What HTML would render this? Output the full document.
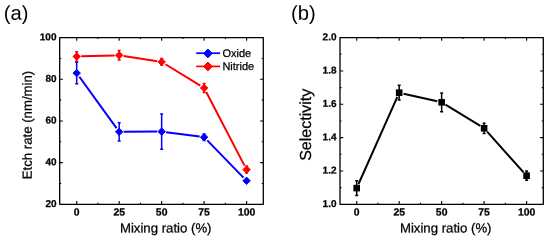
<!DOCTYPE html>
<html><head><meta charset="utf-8"><style>
html,body{margin:0;padding:0;background:#fff;overflow:hidden;}
svg{display:block;text-rendering:geometricPrecision;will-change:transform;}
text{font-family:"Liberation Sans",sans-serif;stroke:#000;stroke-width:0.25px;}
.ns{stroke:none;}
</style></head><body>
<svg width="550" height="244" viewBox="0 0 550 244">
<rect width="550" height="244" fill="#fff"/>
<text x="0" y="0" transform="translate(3.7 19.7) skewY(0.05)" font-size="20.2" class="ns" >(a)</text>
<text x="0" y="0" transform="translate(291.1 19.7) skewY(0.05)" font-size="20.2" class="ns" >(b)</text>
<rect x="59.7" y="37.6" width="203.60000000000002" height="166.70000000000002" fill="none" stroke="#000" stroke-width="1.3" stroke-linejoin="round"/>
<path d="M76.70 204.30v-3.2M76.70 37.60v3.2M97.94 204.30v-1.5M97.94 37.60v1.5M119.18 204.30v-3.2M119.18 37.60v3.2M140.41 204.30v-1.5M140.41 37.60v1.5M161.65 204.30v-3.2M161.65 37.60v3.2M182.89 204.30v-1.5M182.89 37.60v1.5M204.12 204.30v-3.2M204.12 37.60v3.2M225.36 204.30v-1.5M225.36 37.60v1.5M246.60 204.30v-3.2M246.60 37.60v3.2" stroke="#000" stroke-width="1.1" fill="none"/>
<text x="0" y="0" transform="translate(76.70 215.6) scale(1.0 1) skewY(0.05)" text-anchor="middle" font-size="10.4" font-weight="bold" >0</text>
<text x="0" y="0" transform="translate(119.18 215.6) scale(1.0 1) skewY(0.05)" text-anchor="middle" font-size="10.4" font-weight="bold" >25</text>
<text x="0" y="0" transform="translate(161.65 215.6) scale(1.0 1) skewY(0.05)" text-anchor="middle" font-size="10.4" font-weight="bold" >50</text>
<text x="0" y="0" transform="translate(204.12 215.6) scale(1.0 1) skewY(0.05)" text-anchor="middle" font-size="10.4" font-weight="bold" >75</text>
<text x="0" y="0" transform="translate(246.60 215.6) scale(1.0 1) skewY(0.05)" text-anchor="middle" font-size="10.4" font-weight="bold" >100</text>
<path d="M59.70 183.46h1.5M263.30 183.46h-1.5M59.70 141.79h1.5M263.30 141.79h-1.5M59.70 100.11h1.5M263.30 100.11h-1.5M59.70 58.44h1.5M263.30 58.44h-1.5M59.70 162.63h3.2M263.30 162.63h-3.2M59.70 120.95h3.2M263.30 120.95h-3.2M59.70 79.28h3.2M263.30 79.28h-3.2" stroke="#000" stroke-width="1.1" fill="none"/>
<text x="0" y="0" transform="translate(56.50 206.90) scale(1.0 1) skewY(0.05)" text-anchor="end" font-size="10.0" font-weight="bold" >20</text>
<text x="0" y="0" transform="translate(56.50 165.23) scale(1.0 1) skewY(0.05)" text-anchor="end" font-size="10.0" font-weight="bold" >40</text>
<text x="0" y="0" transform="translate(56.50 123.55) scale(1.0 1) skewY(0.05)" text-anchor="end" font-size="10.0" font-weight="bold" >60</text>
<text x="0" y="0" transform="translate(56.50 81.88) scale(1.0 1) skewY(0.05)" text-anchor="end" font-size="10.0" font-weight="bold" >80</text>
<text x="0" y="0" transform="translate(56.50 40.20) scale(1.0 1) skewY(0.05)" text-anchor="end" font-size="10.0" font-weight="bold" >100</text>
<path d="M79.34 76.75L116.54 128.15M123.67 131.78L157.15 131.62M166.11 132.19L199.66 136.61M207.27 140.42L243.46 177.58" fill="none" stroke="#0000ff" stroke-width="2.0"/>
<path d="M76.70 62.35V83.85M75.20 62.35h3.0M75.20 83.85h3.0" stroke="#0000ff" stroke-width="1.5" fill="none"/>
<path d="M76.70 69.40L80.40 73.10L76.70 76.80L73.00 73.10Z" fill="#0000ff" stroke="#0000ff" stroke-width="1.0" stroke-linejoin="round"/>
<path d="M119.18 122.70V140.90M117.68 122.70h3.0M117.68 140.90h3.0" stroke="#0000ff" stroke-width="1.5" fill="none"/>
<path d="M119.18 128.10L122.88 131.80L119.18 135.50L115.48 131.80Z" fill="#0000ff" stroke="#0000ff" stroke-width="1.0" stroke-linejoin="round"/>
<path d="M161.65 113.90V149.30M160.15 113.90h3.0M160.15 149.30h3.0" stroke="#0000ff" stroke-width="1.5" fill="none"/>
<path d="M161.65 127.90L165.35 131.60L161.65 135.30L157.95 131.60Z" fill="#0000ff" stroke="#0000ff" stroke-width="1.0" stroke-linejoin="round"/>
<path d="M204.12 134.00V140.40M202.62 134.00h3.0M202.62 140.40h3.0" stroke="#0000ff" stroke-width="1.5" fill="none"/>
<path d="M204.12 133.50L207.82 137.20L204.12 140.90L200.43 137.20Z" fill="#0000ff" stroke="#0000ff" stroke-width="1.0" stroke-linejoin="round"/>
<path d="M246.60 179.80V181.80M245.10 179.80h3.0M245.10 181.80h3.0" stroke="#0000ff" stroke-width="1.5" fill="none"/>
<path d="M246.60 177.10L250.30 180.80L246.60 184.50L242.90 180.80Z" fill="#0000ff" stroke="#0000ff" stroke-width="1.0" stroke-linejoin="round"/>
<path d="M81.20 56.37L114.68 55.43M123.62 55.99L157.20 61.21M165.48 64.26L200.29 85.64M206.20 91.99L244.52 165.61" fill="none" stroke="#ff0000" stroke-width="2.0"/>
<path d="M76.70 51.80V61.20M75.20 51.80h3.0M75.20 61.20h3.0" stroke="#ff0000" stroke-width="1.5" fill="none"/>
<path d="M76.70 52.80L80.40 56.50L76.70 60.20L73.00 56.50Z" fill="#ff0000" stroke="#ff0000" stroke-width="1.0" stroke-linejoin="round"/>
<path d="M119.18 50.55V60.05M117.68 50.55h3.0M117.68 60.05h3.0" stroke="#ff0000" stroke-width="1.5" fill="none"/>
<path d="M119.18 51.60L122.88 55.30L119.18 59.00L115.48 55.30Z" fill="#ff0000" stroke="#ff0000" stroke-width="1.0" stroke-linejoin="round"/>
<path d="M161.65 58.50V65.30M160.15 58.50h3.0M160.15 65.30h3.0" stroke="#ff0000" stroke-width="1.5" fill="none"/>
<path d="M161.65 58.20L165.35 61.90L161.65 65.60L157.95 61.90Z" fill="#ff0000" stroke="#ff0000" stroke-width="1.0" stroke-linejoin="round"/>
<path d="M204.12 83.40V92.60M202.62 83.40h3.0M202.62 92.60h3.0" stroke="#ff0000" stroke-width="1.5" fill="none"/>
<path d="M204.12 84.30L207.82 88.00L204.12 91.70L200.43 88.00Z" fill="#ff0000" stroke="#ff0000" stroke-width="1.0" stroke-linejoin="round"/>
<path d="M246.60 166.10V173.10M245.10 166.10h3.0M245.10 173.10h3.0" stroke="#ff0000" stroke-width="1.5" fill="none"/>
<path d="M246.60 165.90L250.30 169.60L246.60 173.30L242.90 169.60Z" fill="#ff0000" stroke="#ff0000" stroke-width="1.0" stroke-linejoin="round"/>
<path d="M196.2 53.2H220.1" stroke="#0000ff" stroke-width="1.7"/>
<path d="M207.90 49.00L212.30 53.40L207.90 57.80L203.50 53.40Z" fill="#0000ff" stroke="#0000ff" stroke-width="1.0" stroke-linejoin="round"/>
<path d="M196.2 66.4H220.1" stroke="#ff0000" stroke-width="1.7"/>
<path d="M207.90 62.10L212.30 66.50L207.90 70.90L203.50 66.50Z" fill="#ff0000" stroke="#ff0000" stroke-width="1.0" stroke-linejoin="round"/>
<text x="0" y="0" transform="translate(222.4 57.0) skewY(0.05)" font-size="11" >Oxide</text>
<text x="0" y="0" transform="translate(222.4 70.0) skewY(0.05)" font-size="11" >Nitride</text>
<text x="0" y="0" transform="translate(165.7 232.5) skewY(0.05)" text-anchor="middle" font-size="13.2" >Mixing ratio (%)</text>
<text x="0" y="0" transform="translate(31.7 125.0) rotate(-90) skewY(0.05)" text-anchor="middle" font-size="13.2" >Etch rate (nm/min)</text>
<rect x="340.0" y="37.6" width="203.29999999999995" height="166.70000000000002" fill="none" stroke="#000" stroke-width="1.3" stroke-linejoin="round"/>
<path d="M356.70 204.30v-3.2M356.70 37.60v3.2M377.94 204.30v-1.5M377.94 37.60v1.5M399.18 204.30v-3.2M399.18 37.60v3.2M420.41 204.30v-1.5M420.41 37.60v1.5M441.65 204.30v-3.2M441.65 37.60v3.2M462.89 204.30v-1.5M462.89 37.60v1.5M484.12 204.30v-3.2M484.12 37.60v3.2M505.36 204.30v-1.5M505.36 37.60v1.5M526.60 204.30v-3.2M526.60 37.60v3.2" stroke="#000" stroke-width="1.1" fill="none"/>
<text x="0" y="0" transform="translate(356.70 215.6) scale(1.0 1) skewY(0.05)" text-anchor="middle" font-size="10.4" font-weight="bold" >0</text>
<text x="0" y="0" transform="translate(399.18 215.6) scale(1.0 1) skewY(0.05)" text-anchor="middle" font-size="10.4" font-weight="bold" >25</text>
<text x="0" y="0" transform="translate(441.65 215.6) scale(1.0 1) skewY(0.05)" text-anchor="middle" font-size="10.4" font-weight="bold" >50</text>
<text x="0" y="0" transform="translate(484.12 215.6) scale(1.0 1) skewY(0.05)" text-anchor="middle" font-size="10.4" font-weight="bold" >75</text>
<text x="0" y="0" transform="translate(526.60 215.6) scale(1.0 1) skewY(0.05)" text-anchor="middle" font-size="10.4" font-weight="bold" >100</text>
<path d="M340.00 187.63h1.5M543.30 187.63h-1.5M340.00 154.29h1.5M543.30 154.29h-1.5M340.00 120.95h1.5M543.30 120.95h-1.5M340.00 87.61h1.5M543.30 87.61h-1.5M340.00 54.27h1.5M543.30 54.27h-1.5M340.00 170.96h3.2M543.30 170.96h-3.2M340.00 137.62h3.2M543.30 137.62h-3.2M340.00 104.28h3.2M543.30 104.28h-3.2M340.00 70.94h3.2M543.30 70.94h-3.2" stroke="#000" stroke-width="1.1" fill="none"/>
<text x="0" y="0" transform="translate(336.50 206.90) scale(1.0 1) skewY(0.05)" text-anchor="end" font-size="10.0" font-weight="bold" >1.0</text>
<text x="0" y="0" transform="translate(336.50 173.56) scale(1.0 1) skewY(0.05)" text-anchor="end" font-size="10.0" font-weight="bold" >1.2</text>
<text x="0" y="0" transform="translate(336.50 140.22) scale(1.0 1) skewY(0.05)" text-anchor="end" font-size="10.0" font-weight="bold" >1.4</text>
<text x="0" y="0" transform="translate(336.50 106.88) scale(1.0 1) skewY(0.05)" text-anchor="end" font-size="10.0" font-weight="bold" >1.6</text>
<text x="0" y="0" transform="translate(336.50 73.54) scale(1.0 1) skewY(0.05)" text-anchor="end" font-size="10.0" font-weight="bold" >1.8</text>
<text x="0" y="0" transform="translate(336.50 40.20) scale(1.0 1) skewY(0.05)" text-anchor="end" font-size="10.0" font-weight="bold" >2.0</text>
<path d="M358.53 183.99L397.34 96.81M403.56 93.69L437.26 101.31M445.49 104.65L480.29 125.95M487.13 131.65L523.60 172.35" fill="none" stroke="#000" stroke-width="2.0"/>
<path d="M356.70 180.70V195.50M355.20 180.70h3.0M355.20 195.50h3.0" stroke="#000" stroke-width="1.5" fill="none"/>
<rect x="353.40" y="184.80" width="6.6" height="6.6" fill="#000"/>
<path d="M399.18 85.30V100.10M397.68 85.30h3.0M397.68 100.10h3.0" stroke="#000" stroke-width="1.5" fill="none"/>
<rect x="395.88" y="89.40" width="6.6" height="6.6" fill="#000"/>
<path d="M441.65 92.95V111.65M440.15 92.95h3.0M440.15 111.65h3.0" stroke="#000" stroke-width="1.5" fill="none"/>
<rect x="438.35" y="99.00" width="6.6" height="6.6" fill="#000"/>
<path d="M484.12 123.20V133.40M482.62 123.20h3.0M482.62 133.40h3.0" stroke="#000" stroke-width="1.5" fill="none"/>
<rect x="480.82" y="125.00" width="6.6" height="6.6" fill="#000"/>
<path d="M526.60 171.10V180.30M525.10 171.10h3.0M525.10 180.30h3.0" stroke="#000" stroke-width="1.5" fill="none"/>
<rect x="523.30" y="172.40" width="6.6" height="6.6" fill="#000"/>
<text x="0" y="0" transform="translate(445.7 232.5) skewY(0.05)" text-anchor="middle" font-size="13.2" >Mixing ratio (%)</text>
<text x="0" y="0" transform="translate(311.0 124.8) rotate(-90) skewY(0.05)" text-anchor="middle" font-size="16" >Selectivity</text>
</svg>
</body></html>
